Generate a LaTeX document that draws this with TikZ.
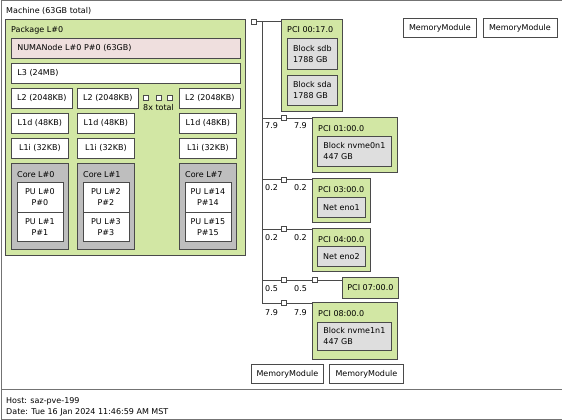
\documentclass[tikz,border=0pt]{standalone}
\usepackage{fontspec}
\setmainfont{DejaVu Sans}
\usepackage{tikz}
\usetikzlibrary{calc}
\definecolor{PackageColor}{HTML}{D2E7A4}
\definecolor{NumaColor}{HTML}{EFDFDE}
\definecolor{CoreColor}{HTML}{BEBEBE}
\definecolor{DeviceColor}{HTML}{DEDEDE}
\definecolor{PciColor}{HTML}{D2E7A4}
\definecolor{LineColor}{HTML}{4A4A4A}
\newcommand{\lstofont}{\fontsize{8}{11}\selectfont}
\tikzset{
    hwbox/.style={
        shape=rectangle,
        draw=LineColor,
        line width=0.8pt,
        anchor=north west,
        inner sep=0pt,
        font=\lstofont
    },
    wh/.style 2 args={minimum width=#1pt, minimum height=#2pt},
    cachebox/.style={hwbox, fill=white, text height=6pt, text depth=1.5pt},
    widebox/.style={cachebox, fill=#1, inner xsep=6pt, text width=217pt, align=left},
    pkgbox/.style={hwbox, fill=PackageColor},
    corebox/.style={hwbox, fill=CoreColor},
    pcibox/.style={hwbox, fill=PciColor},
    pcileaf/.style={cachebox, fill=PciColor},
    pubox/.style={hwbox, fill=white, align=center},
    devbox/.style={hwbox, fill=DeviceColor, align=left},
    title/.style={anchor=base west, inner sep=0pt, font=\lstofont},
    speed/.style={anchor=base west, inner sep=0pt, font=\lstofont},
    port/.style={draw=LineColor, fill=white, line width=0.8pt, minimum size=5pt, inner sep=0pt},
    link/.style={draw=LineColor, line width=0.8pt}
}
\begin{document}
\begin{tikzpicture}[x=1pt, y=-1pt]
\useasboundingbox (0,0) rectangle (562,420);

% Machine and legend
\node[hwbox, draw=black!55, fill=white, wh={561}{388}] (machine) at (0.5,0.5) {};
\node[title] (machine_lbl) at ($(machine.north west)+(5.5,13)$) {Machine (63GB total)};
\node[hwbox, draw=black!55, fill=white, wh={561}{30}] (legend) at (0.5,389) {};
\node[title] (host_lbl) at ($(legend.north west)+(5.5,14)$) {Host: saz-pve-199};
\node[title] (date_lbl) at ($(legend.north west)+(5.5,25)$) {Date: Tue 16 Jan 2024 11:46:59 AM MST};

% Package
\node[pkgbox, wh={240}{236}] (pkg) at (5,19) {};
\node[title] (pkg_lbl) at ($(pkg.north west)+(6,14)$) {Package L\#0};
\node[widebox=NumaColor, minimum height=20pt] (numa) at (11,38) {NUMANode L\#0 P\#0 (63GB)};
\node[widebox=white, minimum height=20pt] (l3) at (11,63) {L3 (24MB)};

% Core 0
\node[cachebox, wh={61}{20}] (l2_0) at (11,88) {L2 (2048KB)};
\node[cachebox, wh={57}{20}] (l1d_0) at (11,113) {L1d (48KB)};
\node[cachebox, wh={57}{20}] (l1i_0) at (11,138) {L1i (32KB)};
\node[corebox, wh={57}{86}] (core_0) at (11,163) {};
\node[title] (core_0_lbl) at ($(core_0.north west)+(6,14)$) {Core L\#0};
\node[pubox, wh={46}{29.5}] (pu_0) at (16.5,182) {PU L\#0\\P\#0};
\node[pubox, wh={46}{29.5}] (pu_1) at (16.5,211.5) {PU L\#1\\P\#1};

% Core 1
\node[cachebox, wh={61}{20}] (l2_1) at (77,88) {L2 (2048KB)};
\node[cachebox, wh={57}{20}] (l1d_1) at (77,113) {L1d (48KB)};
\node[cachebox, wh={57}{20}] (l1i_1) at (77,138) {L1i (32KB)};
\node[corebox, wh={57}{86}] (core_1) at (77,163) {};
\node[title] (core_1_lbl) at ($(core_1.north west)+(6,14)$) {Core L\#1};
\node[pubox, wh={46}{29.5}] (pu_2) at (82.5,182) {PU L\#2\\P\#2};
\node[pubox, wh={46}{29.5}] (pu_3) at (82.5,211.5) {PU L\#3\\P\#3};

% Hidden cores
\node[port] (more_0) at (145.5,97.5) {};
\node[port] (more_1) at (158.5,97.5) {};
\node[port] (more_2) at (169.5,97.5) {};
\node[font=\lstofont, inner sep=0pt] (more_lbl) at (158.5,108) {8x total};

% Core 7
\node[cachebox, wh={61}{20}] (l2_7) at (179,88) {L2 (2048KB)};
\node[cachebox, wh={57}{20}] (l1d_7) at (179,113) {L1d (48KB)};
\node[cachebox, wh={57}{20}] (l1i_7) at (179,138) {L1i (32KB)};
\node[corebox, wh={57}{86}] (core_7) at (179,163) {};
\node[title] (core_7_lbl) at ($(core_7.north west)+(6,14)$) {Core L\#7};
\node[pubox, wh={46}{29.5}] (pu_14) at (184.5,182) {PU L\#14\\P\#14};
\node[pubox, wh={46}{29.5}] (pu_15) at (184.5,211.5) {PU L\#15\\P\#15};

% Host bridge
\node[port] (host_port) at (254,21.5) {};
\coordinate (bus_top) at (262,21.5);
\coordinate (bus_bot) at (262,303);
\draw[link] (host_port) -- (bus_top) -- (bus_bot);

% PCI 00:17.0
\node[pcibox, wh={61}{92}] (pci00) at (281,19) {};
\node[title] (pci00_lbl) at ($(pci00.north west)+(6,14)$) {PCI 00:17.0};
\node[devbox, wh={50}{31}] (sdb) at (287,38) {Block sdb\\1788 GB};
\node[devbox, wh={50}{30}] (sda) at (287,75) {Block sda\\1788 GB};
\draw[link] (bus_top) -- (bus_top -| pci00.west);

% PCI 01:00.0
\node[pcibox, wh={85}{55}] (pci01) at (312,117) {};
\node[title] (pci01_lbl) at ($(pci01.north west)+(6,14)$) {PCI 01:00.0};
\node[devbox, wh={74}{30}] (nvme0) at (317,136) {Block nvme0n1\\447 GB};
\coordinate (br_01) at (262,118);
\node[port] (port_01) at (283.5,118) {};
\draw[link] (br_01) -- (port_01) -- (port_01 -| pci01.west);
\node[speed] (up_01) at ($(br_01)+(3,10)$) {7.9};
\node[speed, anchor=base east] (down_01) at ($(pci01.west |- br_01)+(-5,10)$) {7.9};

% PCI 03:00.0
\node[pcibox, wh={58}{44}] (pci03) at (312,178) {};
\node[title] (pci03_lbl) at ($(pci03.north west)+(6,14)$) {PCI 03:00.0};
\node[devbox, wh={48}{20}] (eno1) at (317,197) {Net eno1};
\coordinate (br_03) at (262,179.5);
\node[port] (port_03) at (283.5,179.5) {};
\draw[link] (br_03) -- (port_03) -- (port_03 -| pci03.west);
\node[speed] (up_03) at ($(br_03)+(3,11)$) {0.2};
\node[speed, anchor=base east] (down_03) at ($(pci03.west |- br_03)+(-5,11)$) {0.2};

% PCI 04:00.0
\node[pcibox, wh={58}{43}] (pci04) at (312,228) {};
\node[title] (pci04_lbl) at ($(pci04.north west)+(6,14)$) {PCI 04:00.0};
\node[devbox, wh={48}{20}] (eno2) at (317,246) {Net eno2};
\coordinate (br_04) at (262,229);
\node[port] (port_04) at (283.5,229) {};
\draw[link] (br_04) -- (port_04) -- (port_04 -| pci04.west);
\node[speed] (up_04) at ($(br_04)+(3,11.5)$) {0.2};
\node[speed, anchor=base east] (down_04) at ($(pci04.west |- br_04)+(-5,11.5)$) {0.2};

% PCI 07:00.0
\node[pcileaf, wh={56}{21}] (pci07) at (342,277) {PCI 07:00.0};
\coordinate (br_07) at (262,280);
\node[port] (port_07a) at (283.5,280) {};
\node[port] (port_07b) at (315,280) {};
\draw[link] (br_07) -- (port_07a) -- (port_07b) -- (port_07b -| pci07.west);
\node[speed] (up_07) at ($(br_07)+(3,11)$) {0.5};
\node[speed, anchor=base east] (down_07) at ($(port_07b.west |- br_07)+(-5,11)$) {0.5};

% PCI 08:00.0
\node[pcibox, wh={85}{57}] (pci08) at (312,302) {};
\node[title] (pci08_lbl) at ($(pci08.north west)+(6,14)$) {PCI 08:00.0};
\node[devbox, wh={74}{28}] (nvme1) at (317,322) {Block nvme1n1\\447 GB};
\draw[link] (bus_bot) -- (bus_bot -| pci08.west);
\node[port] (port_08) at (283.5,303) {};
\node[speed] (up_08) at ($(bus_bot)+(3,12)$) {7.9};
\node[speed, anchor=base east] (down_08) at ($(pci08.west |- bus_bot)+(-5,12)$) {7.9};

% Memory modules
\node[cachebox, wh={73}{19}] (mem_0) at (403,18.5) {MemoryModule};
\node[cachebox, wh={74}{19}] (mem_1) at (482.5,18.5) {MemoryModule};
\node[cachebox, wh={72}{19}] (mem_2) at (251,364) {MemoryModule};
\node[cachebox, wh={74}{19}] (mem_3) at (329,364) {MemoryModule};

\end{tikzpicture}
\end{document}
